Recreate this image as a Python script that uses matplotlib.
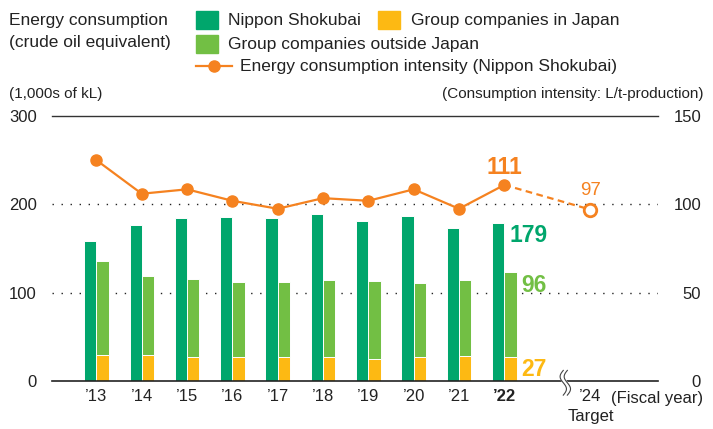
import numpy as np
import matplotlib
matplotlib.use("Agg")
from matplotlib import pyplot as plt
from matplotlib.patches import Rectangle
from matplotlib.lines import Line2D

plt.rcParams['font.family'] = ['Liberation Sans', 'DejaVu Sans']

years = ['\u201913', '\u201914', '\u201915', '\u201916', '\u201917', '\u201918', '\u201919', '\u201920', '\u201921', '\u201922']
target_year = '\u201924'
nippon = [159, 177, 184, 186, 185, 189, 181, 187, 173, 179]
group_japan = [30, 29, 27, 27, 27, 27, 25, 27, 28, 27]
group_outside = [106, 90, 89, 85, 85, 87, 88, 84, 86, 96]
intensity = [125, 106, 108.5, 102, 97.5, 103.5, 102, 108.5, 97.5, 111]
intensity_target = 97

c_dark = '#00A66C'
c_light = '#72BF44'
c_yellow = '#FDB913'
c_orange = '#F58220'

W, H = 713, 429
fig = plt.figure(figsize=(W / 100, H / 100), dpi=100)


def px(x, y):
    return (x / W, 1 - y / H)


left, right, top, bottom = 52, 658, 116, 381
ax = fig.add_axes([left / W, 1 - bottom / H, (right - left) / W, (bottom - top) / H])
ax2 = ax.twinx()

x = np.arange(len(years))
x_target = 10.9
w = 0.27

# dotted grid
for v in (100, 200):
    ax.axhline(v, color='#222222', lw=1.0, dashes=(1, 5.5), zorder=0)

ax.bar(x - w / 2, nippon, w, color=c_dark, edgecolor='white', linewidth=0.7, zorder=2)
ax.bar(x + w / 2, group_japan, w, color=c_yellow, edgecolor='white', linewidth=0.7, zorder=2)
ax.bar(x + w / 2, group_outside, w, bottom=group_japan, color=c_light, edgecolor='white', linewidth=0.7, zorder=2)

ax.set_xlim(-0.98, 12.39)
ax.set_ylim(0, 300)
ax2.set_ylim(0, 150)

ax2.plot(x, intensity, color=c_orange, lw=1.6, marker='o', ms=8, zorder=3)
ax2.plot([x[-1], x_target], [intensity[-1], intensity_target], color=c_orange, lw=1.6,
         dashes=(3, 2), zorder=3)
ax2.plot([x_target], [intensity_target], marker='o', ms=9, mfc='white', mec=c_orange, mew=2,
         linestyle='none', zorder=4)

for a in (ax, ax2):
    for s in ('left', 'right'):
        a.spines[s].set_visible(False)
ax2.spines['top'].set_visible(False)
ax2.spines['bottom'].set_visible(False)
ax.spines['top'].set_color('#333333')
ax.spines['top'].set_linewidth(1.0)
ax.spines['bottom'].set_color('#222222')
ax.spines['bottom'].set_linewidth(1.2)

ax.set_yticks([0, 100, 200, 300])
ax.tick_params(axis='y', length=0, pad=11, labelsize=12, labelcolor='#222222')
ax2.set_yticks([0, 50, 100, 150])
ax2.tick_params(axis='y', length=0, pad=31, labelsize=12, labelcolor='#222222')
for t in ax2.get_yticklabels():
    t.set_horizontalalignment('right')

ax.set_xticks(list(x) + [x_target])
ax.set_xticklabels(years + [target_year])
ax.tick_params(axis='x', length=0, pad=6, labelsize=12, labelcolor='#222222')
ax.get_xticklabels()[len(years) - 1].set_fontweight('bold')
ax.text(x_target, -40, 'Target', ha='center', va='center', fontsize=12, color='#222222')
fig.text(*px(703, 398), '(Fiscal year)', ha='right', va='center', fontsize=12, color='#222222')

# axis break mark
yy = np.linspace(-16, 12, 40)
wave = 0.07 * np.sin((yy + 16) / 28 * 2 * np.pi)
xb = 10.3
ax.fill_betweenx(yy, xb + wave, xb + 0.09 + wave, color='white', zorder=5, clip_on=False)
ax.plot(xb + wave, yy, color='#444444', lw=0.8, zorder=6, clip_on=False)
ax.plot(xb + 0.09 + wave, yy, color='#444444', lw=0.8, zorder=6, clip_on=False)

# value labels
ax.text(9.12, 165, str(nippon[-1]), color=c_dark, fontsize=16.5, fontweight='bold', va='center')
ax.text(9.37, 108, str(group_outside[-1]), color=c_light, fontsize=16.5, fontweight='bold', va='center')
ax.text(9.37, 13, str(group_japan[-1]), color=c_yellow, fontsize=16.5, fontweight='bold', va='center')
ax2.text(x[-1], 121, str(intensity[-1]), color=c_orange, fontsize=16.5, fontweight='bold',
         ha='center', va='center')
ax2.text(x_target, 108, str(intensity_target), color=c_orange, fontsize=13.5, ha='center', va='center')

# legend / header
tc = '#222222'
fs = 12.5
fig.text(*px(9, 20), 'Energy consumption', fontsize=fs, va='center', color=tc)
fig.text(*px(9, 43), '(crude oil equivalent)', fontsize=fs, va='center', color=tc)


def square(x0, y0, color):
    fig.add_artist(Rectangle(px(x0, y0 + 18), 22 / W, 18 / H, color=color, transform=fig.transFigure))


square(196, 11, c_dark)
fig.text(*px(228, 20), 'Nippon Shokubai', fontsize=fs, va='center', color=tc)
square(378, 11, c_yellow)
fig.text(*px(411, 20), 'Group companies in Japan', fontsize=fs, va='center', color=tc)
square(196, 35, c_light)
fig.text(*px(228, 44), 'Group companies outside Japan', fontsize=fs, va='center', color=tc)
lx0, ly = px(196, 66)
lx1, _ = px(232, 66)
fig.add_artist(Line2D([lx0, lx1], [ly, ly], color=c_orange, lw=1.6, transform=fig.transFigure))
fig.add_artist(Line2D([(lx0 + lx1) / 2], [ly], color=c_orange, marker='o', ms=8,
                      transform=fig.transFigure))
fig.text(*px(240, 66), 'Energy consumption intensity (Nippon Shokubai)', fontsize=fs,
         va='center', color=tc)

fig.text(*px(9, 94), '(1,000s of kL)', fontsize=11, va='center', color=tc)
fig.text(*px(703, 94), '(Consumption intensity: L/t-production)', fontsize=11, ha='right',
         va='center', color=tc)

fig.savefig('out.png', dpi=100)
